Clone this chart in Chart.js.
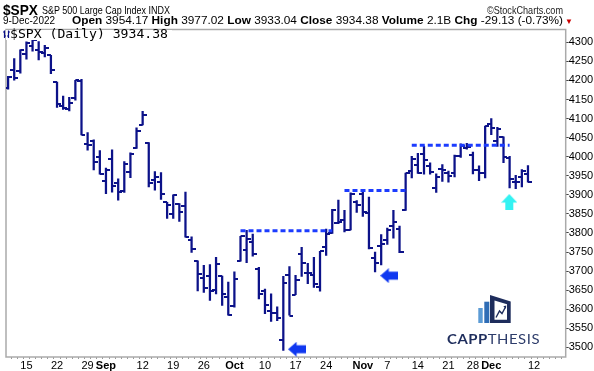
<!DOCTYPE html>
<html><head><meta charset="utf-8">
<script src="https://cdn.jsdelivr.net/npm/chart.js@4.4.1/dist/chart.umd.min.js"></script>
<style>
html,body{margin:0;padding:0;background:#fff;}
#wrap{position:relative;width:594px;height:371px;overflow:hidden;font-family:"Liberation Sans",Arial,sans-serif;color:#000;}
#c{position:absolute;left:0;top:0;}
.t{position:absolute;white-space:nowrap;transform-origin:0 0;line-height:1;}
.b{font-weight:bold;}
</style></head><body>
<div id="wrap">
<canvas id="c" width="594" height="371"></canvas>
<div class="t fit" data-x="3" data-w="35" style="top:1.8px;font-size:15px;font-weight:bold;">$SPX</div>
<div class="t fit" data-x="42" data-w="128" style="top:5px;font-size:11px;">S&amp;P 500 Large Cap Index INDX</div>
<div class="t fit" data-x="487" data-w="76" style="top:5px;font-size:11px;color:#222;">©StockCharts.com</div>
<div class="t fit" data-x="3" data-w="52" style="top:15px;font-size:11px;">9-Dec-2022</div>
<div class="t fit" data-x="72" data-w="491" style="top:15px;font-size:11px;"><span class="b">Open</span> 3954.17 <span class="b">High</span> 3977.02 <span class="b">Low</span> 3933.04 <span class="b">Close</span> 3934.38 <span class="b">Volume</span> 2.1B <span class="b">Chg</span> -29.13 (-0.73%)</div>
<div class="t" style="left:565px;top:18px;font-size:8px;color:#cc0000;">▼</div>
<div style="position:absolute;left:5.8px;top:30.3px;width:166px;height:10px;background:#fff;"></div>
<svg style="position:absolute;left:2px;top:30px;" width="9" height="9" viewBox="0 0 9 9">
<path d="M2.5 0.5V8 M1 2H2.5 M2.5 6H4 M6.5 0.5V8 M5 6H6.5 M6.5 2H8" stroke="#0c1289" stroke-width="1.2" fill="none"/>
</svg>
<div class="t fit" data-x="10" data-w="158" style="top:27.8px;font-size:12px;font-family:'DejaVu Sans Mono',monospace;">$SPX (Daily) 3934.38</div>
<svg style="position:absolute;left:476px;top:293px;" width="40" height="34" viewBox="476 293 40 34">
<rect x="478.3" y="308" width="4.4" height="15" fill="#5b9bd5"/>
<rect x="484.3" y="301.7" width="5" height="21.3" fill="#2f6db5"/>
<path d="M490 295 L510.7 301.5 L510.7 323 L490 323 Z M494.5 300.5 L507 304.3 L507 319.7 L494.5 319.7 Z" fill="#1e2d5c" fill-rule="evenodd"/>
<polyline points="496,317.5 499.5,311 502,313.5 505.5,307" stroke="#1e2d5c" stroke-width="1.4" fill="none"/>
<path d="M503.3 306.2 L506.3 305.6 L505.9 308.8 Z" fill="#1e2d5c"/>
</svg>
<div class="t fit" data-x="447" data-w="93" style="top:332px;font-size:14px;font-family:Lato,'Open Sans',sans-serif;letter-spacing:0.5px;"><span style="font-weight:bold;color:#1e2d5c;">CAPP</span><span style="color:#2e3d6b;">THESIS</span></div>
</div>
<script>
// ---- data ----
const dates = ['Aug 10','Aug 11','Aug 12','Aug 15','Aug 16','Aug 17','Aug 18','Aug 19','Aug 22','Aug 23','Aug 24','Aug 25','Aug 26','Aug 29','Aug 30','Aug 31',
'Sep 1','Sep 2','Sep 6','Sep 7','Sep 8','Sep 9','Sep 12','Sep 13','Sep 14','Sep 15','Sep 16','Sep 19','Sep 20','Sep 21','Sep 22','Sep 23','Sep 26','Sep 27','Sep 28','Sep 29','Sep 30',
'Oct 3','Oct 4','Oct 5','Oct 6','Oct 7','Oct 10','Oct 11','Oct 12','Oct 13','Oct 14','Oct 17','Oct 18','Oct 19','Oct 20','Oct 21','Oct 24','Oct 25','Oct 26','Oct 27','Oct 28','Oct 31',
'Nov 1','Nov 2','Nov 3','Nov 4','Nov 7','Nov 8','Nov 9','Nov 10','Nov 11','Nov 14','Nov 15','Nov 16','Nov 17','Nov 18','Nov 21','Nov 22','Nov 23','Nov 25','Nov 28','Nov 29','Nov 30',
'Dec 1','Dec 2','Dec 5','Dec 6','Dec 7','Dec 8','Dec 9'];
const futureDates = ['Dec 12','Dec 13','Dec 14','Dec 15','Dec 16','Dec 19'];
const opens  = [4181,4227,4225,4269,4290,4280,4273,4266,4195,4133,4126,4153,4198,4034,4041,4000,
3936,3994,3930,3909,3959,4022,4083,4037,3940,3933,3880,3849,3875,3871,3782,3727,3682,3686,3651,3687,3633,
3609,3726,3754,3777,3706,3647,3595,3590,3520,3690,3638,3746,3696,3689,3657,3762,3799,3825,3834,3809,3882,
3901,3853,3733,3767,3781,3817,3810,3859,3963,3977,4006,3976,3919,3967,3956,3956,4001,4024,4005,3965,3958,
4087,4041,4052,3996,3934,3947,3954];
const highs  = [4211,4257,4280,4301,4325,4302,4292,4266,4196,4159,4156,4200,4203,4063,4044,4016,
3970,4018,3942,3987,4010,4076,4119,4037,3961,3958,3880,3900,3877,3907,3790,3727,3715,3717,3736,3687,3671,
3698,3791,3807,3797,3710,3653,3640,3606,3686,3712,3689,3762,3720,3736,3752,3810,3862,3886,3859,3905,3885,
3911,3894,3750,3796,3813,3859,3818,3957,4001,4009,4028,3984,3955,3979,3962,4004,4034,4035,4012,3976,4080,
4100,4077,4052,4001,3951,3966,3977];
const lows   = [4177,4201,4219,4256,4277,4254,4262,4218,4129,4124,4120,4148,4057,4017,3965,3954,
3903,3907,3886,3906,3945,4022,4083,3921,3912,3888,3838,3838,3830,3789,3749,3648,3644,3623,3640,3610,3584,
3605,3726,3722,3739,3627,3588,3568,3570,3492,3584,3638,3686,3667,3657,3647,3741,3799,3824,3803,3808,3854,
3843,3758,3698,3716,3770,3786,3748,3859,3944,3956,3954,3954,3906,3935,3933,3947,3998,4020,3955,3937,3944,
4058,4027,3984,3918,3916,3921,3933];
const closes = [4210,4207,4280,4297,4305,4274,4284,4228,4138,4128,4141,4200,4057,4031,3986,3955,
3966,3924,3908,3980,4006,4067,4110,3932,3946,3901,3873,3900,3856,3790,3758,3693,3655,3647,3719,3641,3586,
3678,3791,3783,3745,3640,3612,3589,3577,3669,3583,3677,3720,3695,3666,3752,3797,3859,3830,3808,3901,3872,
3856,3760,3720,3771,3807,3828,3749,3956,3993,3957,3992,3959,3947,3965,3950,4003,4027,4026,3964,3958,4080,
4076,4072,3999,3941,3933,3963,3934];
const xTickIdx  = [3,8,13,16,22,27,32,37,42,47,52,58,62,67,72,76,79,86];
const xTickText = ['15','22','29','Sep','12','19','26','Oct','10','17','24','Nov','7','14','21','28','Dec','12'];
const monthNames = ['Sep','Oct','Nov','Dec'];
const yTicks = [3500,3550,3600,3650,3700,3750,3800,3850,3900,3950,4000,4050,4100,4150,4200,4250,4300];
const levelValue = [3806,3911,4030];
const levelStart = [38,55,66];
const levelEnd   = [53,65,82];
const arrowIdx   = [47.25,62.33,81.95];
const arrowPrice = [3495,3688,3881];
const arrowKind  = ['left','left','up'];

// ---- fit header texts ----
document.querySelectorAll('.fit').forEach(el=>{
  const w = el.getBoundingClientRect().width;
  el.style.left = el.dataset.x + 'px';
  el.style.transform = 'scaleX(' + (parseFloat(el.dataset.w)/w) + ')';
});

const BAR = '#0c1289';
const DASH = '#1c3cff';
function tickImg(side){
  const c=document.createElement('canvas'); c.width=8; c.height=2;
  const g=c.getContext('2d'); g.fillStyle=BAR;
  if(side==='L') g.fillRect(0,0,4,2); else g.fillRect(4,0,4,2);
  return c;
}
function arrowImg(kind){
  const c=document.createElement('canvas');
  const g=c.getContext('2d');
  if(kind==='left'){
    c.width=18; c.height=15; g.fillStyle='#1038f0';
    g.beginPath(); g.moveTo(0,7.5); g.lineTo(8.5,0); g.lineTo(8.5,15); g.closePath(); g.fill();
    g.fillRect(8,3.5,10,8);
  } else {
    c.width=16; c.height=16; g.fillStyle='#33f2f2';
    g.beginPath(); g.moveTo(8,0); g.lineTo(0,8.5); g.lineTo(16,8.5); g.closePath(); g.fill();
    g.fillRect(4,8,8,8);
  }
  return c;
}

const allDates = dates.concat(futureDates);
const hiLo = dates.map((d,i)=>({x:i, y:[lows[i], highs[i]]}));
const openPts = opens.map((v,i)=>({x:i, y:v}));
const closePts = closes.map((v,i)=>({x:i, y:v}));

const datasets = [
  {type:'bar', data:hiLo, backgroundColor:BAR, borderWidth:0, barThickness:1.6, grouped:false, order:3},
  {type:'scatter', data:openPts, pointStyle:tickImg('L'), pointRadius:3, order:2},
  {type:'scatter', data:closePts, pointStyle:tickImg('R'), pointRadius:3, order:2}
];
levelValue.forEach((v,k)=>{
  datasets.push({type:'line', data:[{x:levelStart[k],y:v},{x:levelEnd[k],y:v}], borderColor:DASH,
    borderWidth:3, borderDash:[5,3], pointRadius:0, fill:false, order:1});
});
arrowIdx.forEach((xv,k)=>{
  datasets.push({type:'scatter', data:[{x:xv,y:arrowPrice[k]}], pointStyle:arrowImg(arrowKind[k]), pointRadius:5, order:0});
});

const frame = {
  id:'frame',
  beforeDatasetsDraw(chart){
    const a=chart.chartArea, g=chart.ctx;
    g.save(); g.strokeStyle='#aaaaaa'; g.lineWidth=1.5;
    g.strokeRect(a.left, a.top, a.right-a.left, a.bottom-a.top);
    g.restore();
  }
};

new Chart(document.getElementById('c'), {
  data:{datasets},
  options:{
    responsive:false, animation:false, events:[],
    layout:{padding:{left:5, top:29.5, right:0, bottom:0}},
    plugins:{legend:{display:false}, tooltip:{enabled:false}},
    scales:{
      x:{type:'linear', min:-0.343, max:91.17, offset:false,
        afterBuildTicks(s){ s.ticks = allDates.map((d,i)=>({value:i})); },
        afterFit(s){ s.height = 14; },
        grid:{display:true, drawOnChartArea:false, drawTicks:true, tickLength:2, color:'#999', lineWidth:1},
        border:{display:false},
        ticks:{autoSkip:false, maxRotation:0, minRotation:0, padding:0, color:'#000',
          font:(ctx)=>{ const lab = ctx.tick ? ctx.tick.label : ''; return {family:"'Liberation Sans', Arial, sans-serif", size:11, weight: monthNames.includes(lab)?'bold':'normal'}; },
          callback:(v)=>{ const k = xTickIdx.indexOf(v); return k>=0 ? xTickText[k] : ''; }
        }
      },
      y:{type:'linear', position:'right', min:3474.6, max:4333.6,
        afterBuildTicks(s){ s.ticks = yTicks.map(v=>({value:v})); },
        afterFit(s){ s.width = 28.3; },
        grid:{display:true, drawOnChartArea:false, drawTicks:true, tickLength:3, color:'#444', lineWidth:1},
        border:{display:false},
        ticks:{padding:0, color:'#000', font:{family:"'Liberation Sans', Arial, sans-serif", size:11},
          callback:(v)=>String(v)}
      }
    }
  },
  plugins:[frame]
});
</script>
</body></html>
